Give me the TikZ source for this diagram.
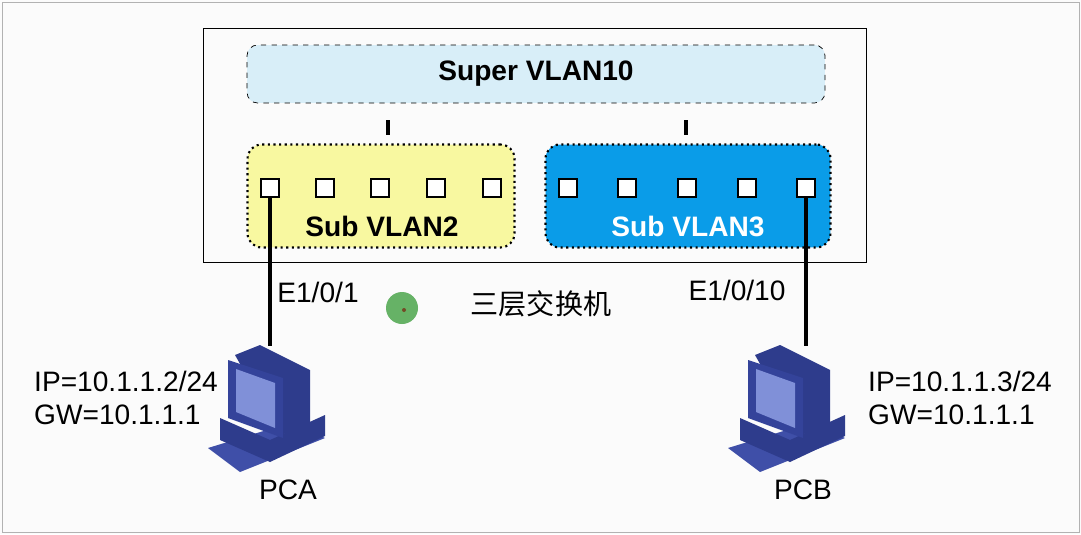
\documentclass[tikz,border=0pt]{standalone}
\usepackage{fontspec}
\setmainfont{Liberation Sans}
\newfontfamily\cjk{Noto Sans CJK SC}
\definecolor{pcA}{HTML}{3F4FA8}
\definecolor{pcB}{HTML}{2E3C8C}
\definecolor{pcC}{HTML}{34439A}
\definecolor{pcS}{HTML}{8090D8}
\definecolor{sup}{HTML}{D8EEF8}
\definecolor{yel}{HTML}{F8F8A0}
\definecolor{blu}{HTML}{0A9CE8}
\begin{document}
\begin{tikzpicture}[x=0.02cm,y=-0.02cm,
  txt/.style={font=\fontsize{16}{19}\selectfont},
  btxt/.style={font=\fontsize{16}{19}\selectfont\bfseries},
  port/.style={draw,fill=white,minimum size=0.36cm,inner sep=0pt,line width=1pt},
  pc/.pic={
    \fill[pcA] (-57,48) -- (-25,72) -- (60,38) -- (28,22) -- cycle;
    \fill[pcB] (-45,18) -- (-45,40) -- (5,62) -- (60,36) -- (60,15) -- (5,40) -- cycle;
    \fill[pcB] (-30,-45) -- (-5,-55) -- (45,-30) -- (45,25) -- (15,35) -- cycle;
    \fill[pcC] (-37,-40) -- (18,-22) -- (18,38) -- (-37,18) -- cycle;
    \fill[pcS] (-29,-31) -- (10,-17) -- (10,28) -- (-29,12) -- cycle;
  }]
\useasboundingbox (0,0) rectangle (1081,534);
\fill[gray!3] (0,0) rectangle (1081,534);
\draw[gray!60] (2,2) rectangle (1079,532);
\node[draw,minimum width=13.26cm,minimum height=4.68cm,anchor=north west,inner sep=0pt] (sw) at (203,28) {};
\node[draw,dashed,rounded corners=6pt,fill=sup,minimum width=11.56cm,minimum height=1.16cm,btxt] (super) at (536,74) {Super VLAN10};
\draw[line width=2pt] (388,120) -- (388,135);
\draw[line width=2pt] (686,120) -- (686,135);
\node[draw,dotted,line width=1.2pt,rounded corners=8pt,fill=yel,minimum width=5.34cm,minimum height=2.06cm] (v2) at (381,196) {};
\node[btxt] at (382,226) {Sub VLAN2};
\node[draw,dotted,line width=1.2pt,rounded corners=8pt,fill=blu,minimum width=5.7cm,minimum height=2.06cm] (v3) at (688,196) {};
\node[btxt,white] at (688,226) {Sub VLAN3};
\foreach \x [count=\i] in {270,325,380,436,492} \node[port] (a\i) at (\x,188) {};
\foreach \x [count=\i] in {568,627,687,747,806} \node[port] (b\i) at (\x,188) {};
\pic at (265,400) {pc};
\pic at (785,400) {pc};
\coordinate (pa) at (270,346);
\coordinate (pb) at (806,346);
\draw[line width=2pt] (a1) -- (pa);
\draw[line width=2pt] (b5) -- (pb);
\node[txt] at (318,292) {E1/0/1};
\node[txt] at (737,290) {E1/0/10};
\fill[green!50!black!60!white] (402,308) circle (16);
\fill[brown!60!black] (404,310) circle (2);
\node[font=\cjk\fontsize{16}{19}\selectfont] at (541,304) {三层交换机};
\node[txt,align=left,anchor=west] at (28,398) {IP=10.1.1.2/24\\GW=10.1.1.1};
\node[txt,align=left,anchor=west] at (862,398) {IP=10.1.1.3/24\\GW=10.1.1.1};
\node[txt] at (288,490) {PCA};
\node[txt] at (803,490) {PCB};
\end{tikzpicture}
\end{document}
